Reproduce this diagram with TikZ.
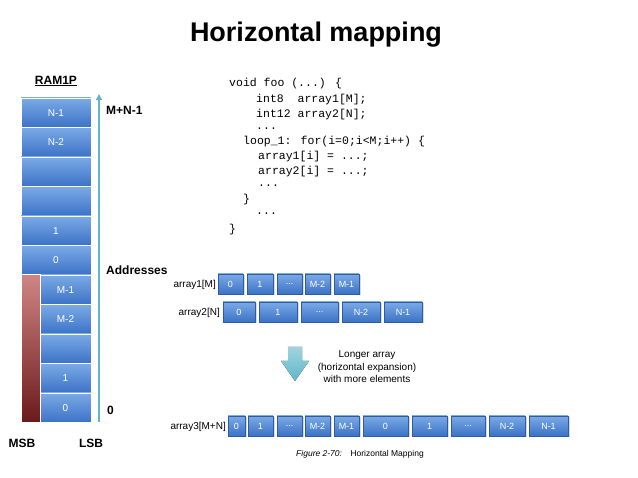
\documentclass[tikz,border=0pt]{standalone}
\usepackage{fontspec}
\setmainfont{Liberation Sans}
\newfontfamily\monof{Liberation Mono}
\usetikzlibrary{arrows.meta,shadows}
\definecolor{btop}{HTML}{7AAAE6}
\definecolor{bbot}{HTML}{3C72C6}
\definecolor{redtop}{HTML}{D08585}
\definecolor{redbot}{HTML}{6B1A1A}
\definecolor{arrowc}{HTML}{5FB7C9}
\newcommand\mydd{...}
\begin{document}
\begin{tikzpicture}[x=1pt,y=-1pt,
  cell/.style={draw=white,line width=0.6pt,top color=btop,bottom color=bbot,text=white,
    font=\fontsize{10}{10}\selectfont,inner sep=0pt,anchor=center},
  abox/.style={cell,font=\fontsize{9}{9}\selectfont,draw=bbot!80!black,drop shadow={opacity=0.3,shadow xshift=1.5pt,shadow yshift=-1.5pt}},
  lbl/.style={font=\fontsize{12}{12}\selectfont\bfseries,inner sep=0pt},
  alab/.style={font=\fontsize{10}{10}\selectfont,inner sep=0pt,anchor=east},
  code/.style={font=\monof\fontsize{11.5}{11.5}\selectfont,inner sep=0pt,anchor=west}]
\useasboundingbox (0,0) rectangle (638,478);
\node[font=\fontsize{27}{27}\selectfont\bfseries] (title) at (316,35) {Horizontal mapping};
% RAM column
\node[lbl] (ram) at (56,80) {RAM1P};
\draw[line width=0.7pt] ([yshift=-1.5pt]ram.south west) -- ([yshift=-1.5pt]ram.south east);
\foreach \i/\t in {0/N-1,1/N-2,2/,3/,4/1,5/0}{
  \node[cell,minimum width=70pt,minimum height=29.5pt] (r\i) at (56,{112.75+29.5*\i}) {\t};}
\foreach \i/\t in {6/M-1,7/M-2,8/,9/1,10/0}{
  \node[cell,minimum width=51pt,minimum height=29.5pt] (r\i) at (65.5,{112.75+29.5*\i}) {\t};}
\node[draw=white,line width=0.6pt,top color=redtop,bottom color=redbot,minimum width=19pt,minimum height=147.5pt,inner sep=0pt] (msbbar) at (30.5,348.25) {};
\coordinate (abot) at (99,422);
\coordinate (atop) at (99,94);
\draw[arrowc,line width=1.5pt,-{Triangle[length=6pt,width=6pt]}] (abot) -- (atop);
\node[lbl,anchor=west] (mn) at (106,110) {M+N-1};
\node[lbl,anchor=west] (addr) at (106,270) {Addresses};
\node[lbl,anchor=west] (zero) at (107,410) {0};
\node[lbl] (msb) at (22,443) {MSB};
\node[lbl] (lsb) at (91,443) {LSB};
% code
\node[code] (c1) at (229,84) {void foo (...) \{};
\node[code] (c2) at (256,100) {int8~~array1[M];};
\node[code] (c3) at (256,115) {int12 array2[N];};
\node[code] (c4) at (256,129) {...};
\node[code] (c5) at (243,142) {loop\_1: for(i=0;i<M;i++) \{};
\node[code] (c6) at (258,157) {array1[i] = ...;};
\node[code] (c7) at (258,172) {array2[i] = ...;};
\node[code] (c8) at (258,186) {...};
\node[code] (c9) at (243,200) {\}};
\node[code] (c10) at (256,214) {...};
\node[code] (c11) at (229,230) {\}};
% arrays
\node[alab] (l1) at (216,285) {array1[M]};
\foreach \n/\a/\b/\t in {a/218/243/0,b/247/273/1,c/277/302/\mydd,d/305/330/M-2,e/334/359/M-1}{
  \node[abox,minimum width={\b-\a},minimum height=20pt] (x1\n) at ({(\a+\b)/2},284) {\t};}
\node[alab] (l2) at (220,313) {array2[N]};
\foreach \n/\a/\b/\t in {a/223/255/0,b/259/297/1,c/301/338/\mydd,d/342/380/N-2,e/384/422/N-1}{
  \node[abox,minimum width={\b-\a},minimum height=20pt] (x2\n) at ({(\a+\b)/2},312) {\t};}
\node[alab] (l3) at (226,427) {array3[M+N]};
\foreach \n/\a/\b/\t in {a/228/245/0,b/248/273/1,c/277/302/\mydd,d/305/330/M-2,e/334/359/M-1,f/363/408/0,g/412/447/1,h/451/485/\mydd,i/489/525/N-2,j/529/568/N-1}{
  \node[abox,minimum width={\b-\a},minimum height=20pt] (x3\n) at ({(\a+\b)/2},426) {\t};}
% down arrow
\fill[top color=arrowc!60,bottom color=arrowc] (288,347) -- (302,347) -- (302,361) -- (309,361) -- (295,381) -- (281,361) -- (288,361) -- cycle;
\node[font=\fontsize{10}{12.5}\selectfont,align=center,inner sep=0pt] (note) at (367,367) {Longer array\\(horizontal expansion)\\with more elements};
\node[font=\fontsize{8.5}{8.5}\selectfont,inner sep=0pt] (cap) at (360,454) {\textit{Figure 2-70:}\quad Horizontal Mapping};
\end{tikzpicture}
\end{document}
